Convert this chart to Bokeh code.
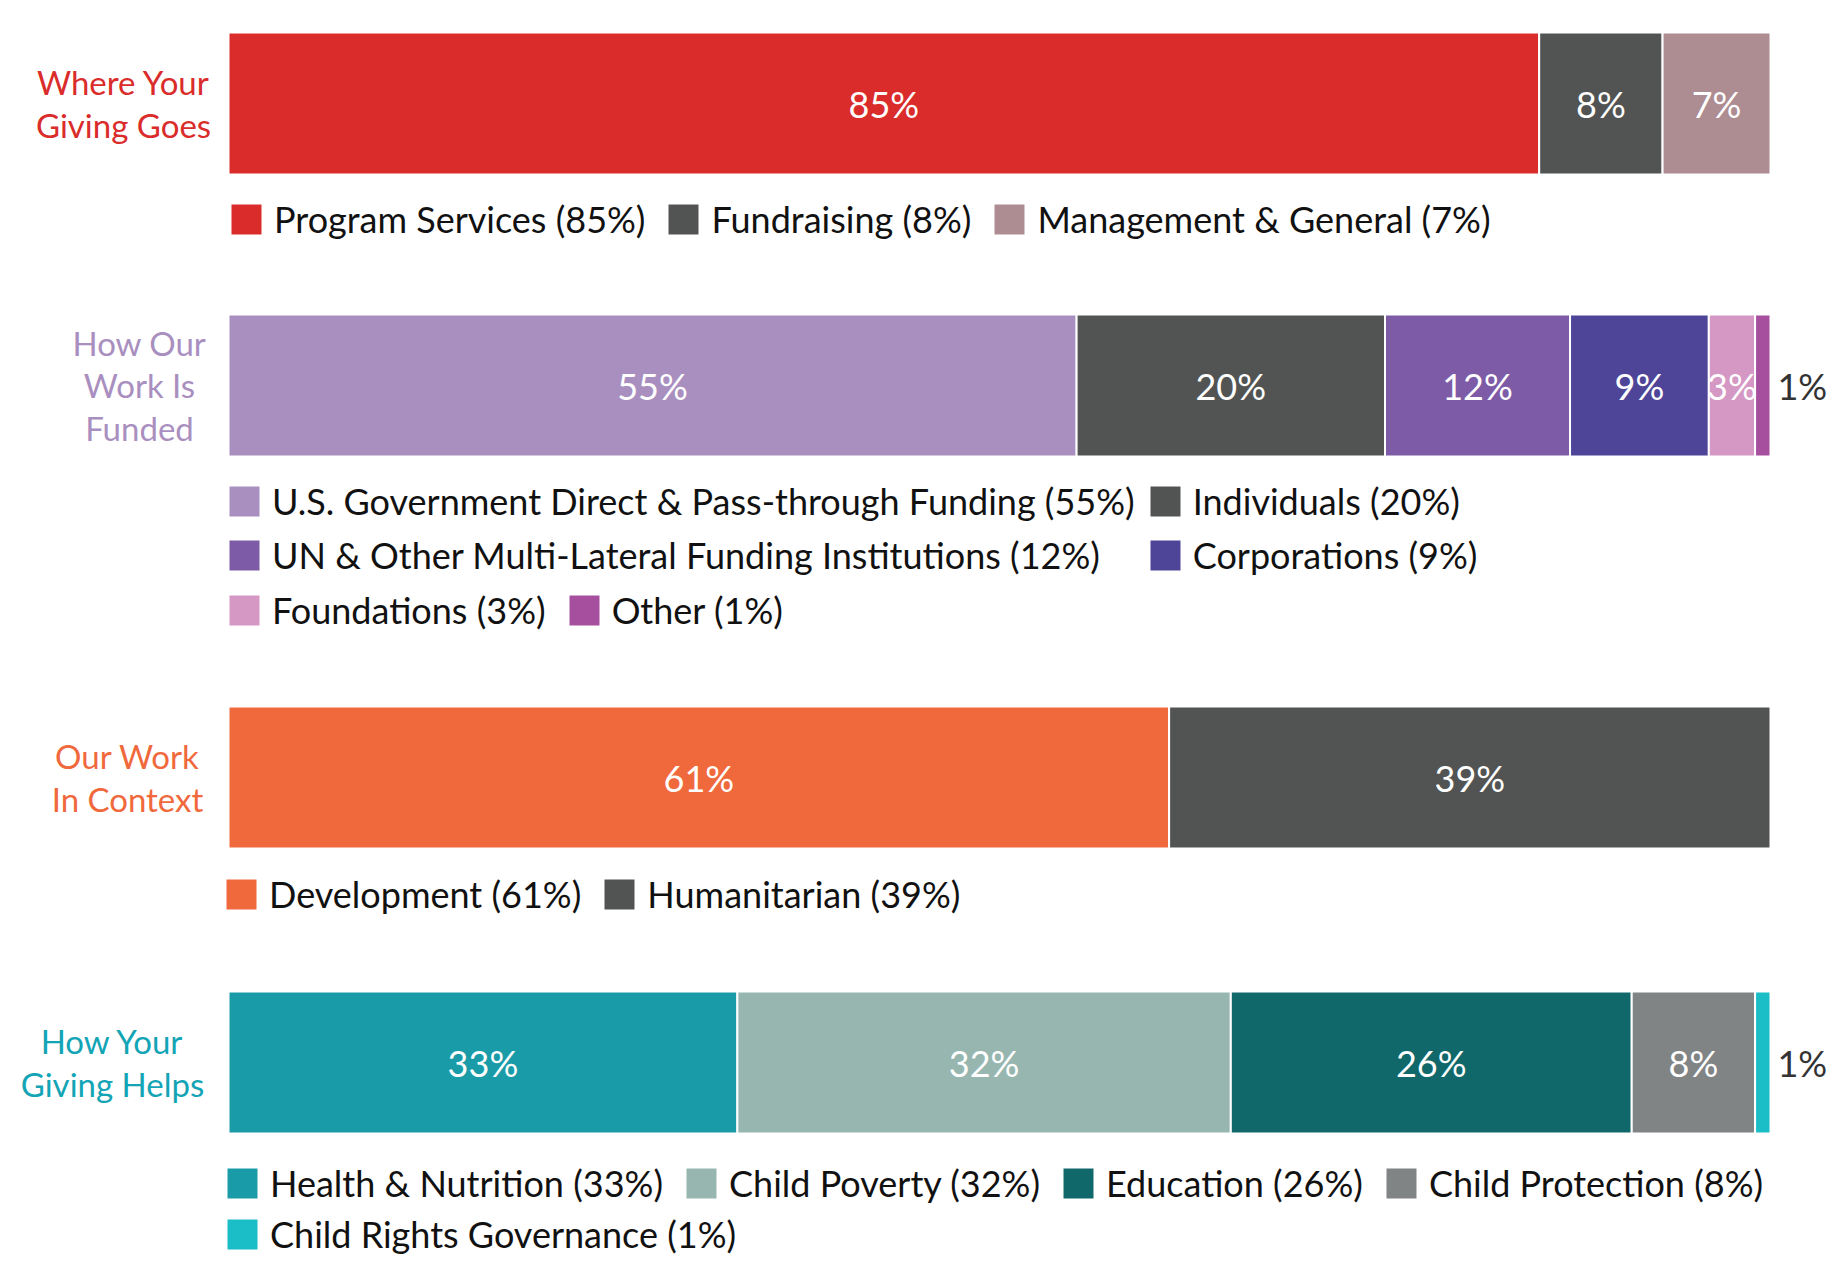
from bokeh.plotting import figure
from bokeh.models import Range1d, ColumnDataSource, Legend, LegendItem
from bokeh.core.properties import value
from bokeh.embed import file_html
from bokeh.resources import INLINE

# ---------------- data ----------------
goes_title = "Where Your\nGiving Goes"
goes_cats = ["Program Services", "Fundraising", "Management & General"]
goes_vals = [85, 8, 7]
goes_colors = ["#DA2C2A", "#525453", "#AD8C92"]

funded_title = "How Our\nWork Is\nFunded"
funded_cats = ["U.S. Government Direct & Pass-through Funding", "Individuals",
               "UN & Other Multi-Lateral Funding Institutions", "Corporations",
               "Foundations", "Other"]
funded_vals = [55, 20, 12, 9, 3, 1]
funded_colors = ["#A98FC0", "#525453", "#7D5BA6", "#4E4599", "#D597C3", "#A64F9F"]

context_title = "Our Work\nIn Context"
context_cats = ["Development", "Humanitarian"]
context_vals = [61, 39]
context_colors = ["#F0693C", "#525453"]

helps_title = "How Your\nGiving Helps"
helps_cats = ["Health & Nutrition", "Child Poverty", "Education", "Child Protection",
              "Child Rights Governance"]
helps_vals = [33, 32, 26, 8, 1]
helps_colors = ["#1A9BA8", "#97B6B0", "#11686A", "#818485", "#1BBDC7"]

# ---------------- layout ----------------
W, H = 1844, 1282
BAR_LEFT_PX, BAR_RIGHT_PX = 228, 1770
PX_PER_PCT = (BAR_RIGHT_PX - BAR_LEFT_PX) / 100.0
BAR_H = 142
FONT = "Lato"
ITEM_H = 44
ROW_GAP = 10

groups = [
    dict(title=goes_title, title_color="#DA2C2A", title_dx=-105, yc=103,
         cats=goes_cats, vals=goes_vals, colors=goes_colors,
         legend_rows=[dict(items=[0, 1, 2], center=219, x=226)]),
    dict(title=funded_title, title_color="#A98FC0", title_dx=-89, yc=385,
         cats=funded_cats, vals=funded_vals, colors=funded_colors,
         legend_rows=[dict(items=[0, 1, 2, 3], center=501, x=224, ncols=2, nrows=2),
                      dict(items=[4, 5], center=610, x=224)]),
    dict(title=context_title, title_color="#F0693C", title_dx=-101, yc=777,
         cats=context_cats, vals=context_vals, colors=context_colors,
         legend_rows=[dict(items=[0, 1], center=894, x=221)]),
    dict(title=helps_title, title_color="#13A4B6", title_dx=-116, yc=1062,
         cats=helps_cats, vals=helps_vals, colors=helps_colors,
         legend_rows=[dict(items=[0, 1, 2, 3], center=1183, x=222),
                      dict(items=[4], center=1234, x=222)]),
]

p = figure(width=W, height=H, output_backend="svg", toolbar_location=None,
           x_range=Range1d(-BAR_LEFT_PX / PX_PER_PCT, (W - BAR_LEFT_PX) / PX_PER_PCT),
           y_range=Range1d(H, 0), min_border=0)
p.axis.visible = False
p.grid.visible = False
p.outline_line_color = None
p.background_fill_color = "white"

for g in groups:
    vals = g["vals"]
    right, acc = [], 0
    for v in vals:
        acc += v
        right.append(acc)
    left = [r - v for r, v in zip(right, vals)]
    small = [v < 2 for v in vals]
    src = ColumnDataSource(dict(
        left=left, right=right, y=[g["yc"]] * len(vals), color=g["colors"],
        label=[f"{v}%" for v in vals],
        lx=[(r + 0.45) if s else (l + r) / 2 for l, r, s in zip(left, right, small)],
        lcolor=["#333333" if s else "white" for s in small],
        align=["left" if s else "center" for s in small],
        legend=[f"{c} ({v}%)" for c, v in zip(g["cats"], vals)],
    ))
    r = p.hbar(y="y", left="left", right="right", height=BAR_H, fill_color="color",
               line_color="white", line_width=2, source=src)
    p.text(x="lx", y="y", text="label", text_color="lcolor", text_align="align",
           text_baseline="middle", text_font=value(FONT), text_font_size="36px",
           source=src)
    p.text(x=[0], y=[g["yc"]], text=[g["title"]], x_offset=g["title_dx"],
           text_color=g["title_color"], text_align="center", text_baseline="middle",
           text_font=value(FONT), text_font_size="33px", text_line_height=1.06)

    for row in g["legend_rows"]:
        items = [LegendItem(label=src.data["legend"][i], renderers=[r], index=i)
                 for i in row["items"]]
        nr = row.get("nrows") or 1
        h = nr * ITEM_H + (nr - 1) * ROW_GAP
        top = row["center"] - ITEM_H / 2
        kw = {}
        if row.get("ncols"):
            kw["ncols"] = row["ncols"]
        leg = Legend(items=items, location=(row["x"], H - top - h),
                     orientation="horizontal", glyph_width=40, glyph_height=40,
                     label_standoff=8, spacing=18 if nr == 1 else ROW_GAP,
                     padding=0, margin=0,
                     border_line_color=None, background_fill_alpha=0,
                     label_text_font=FONT, label_text_font_size="36px",
                     label_text_color="#111111", label_height=ITEM_H,
                     label_text_baseline="middle", **kw)
        p.add_layout(leg)

open("out.html", "w").write(file_html(p, INLINE))
